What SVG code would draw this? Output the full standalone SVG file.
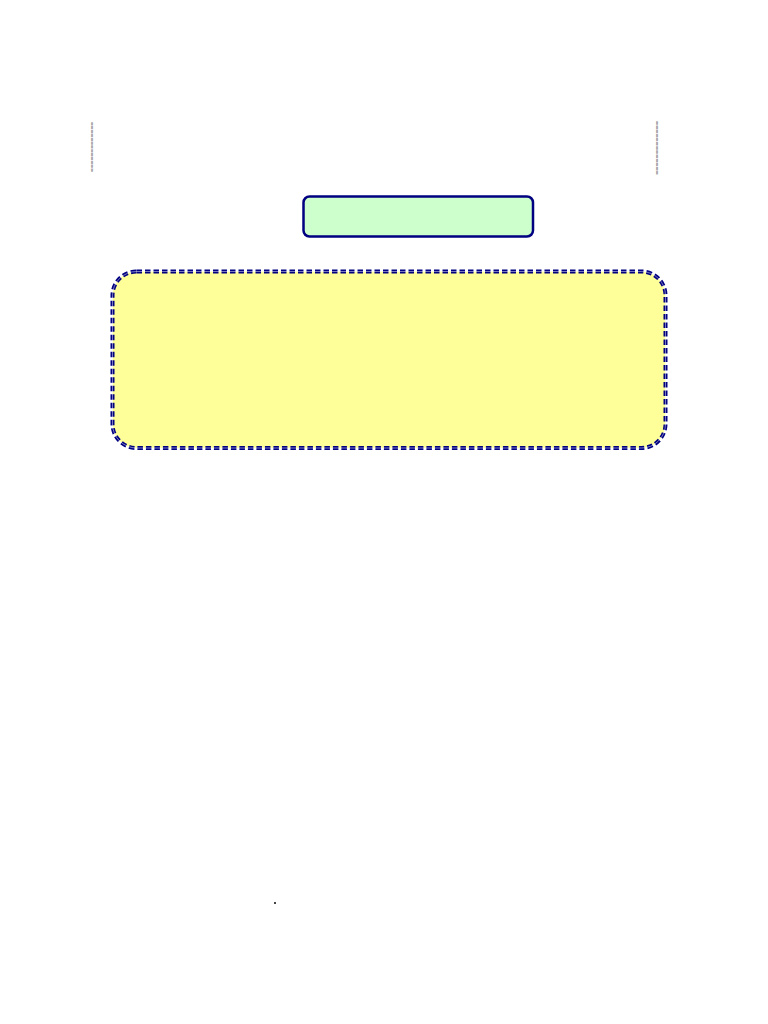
<svg xmlns="http://www.w3.org/2000/svg" width="768" height="1024" viewBox="0 0 768 1024">
<style>
.lbl{font-family:"Liberation Sans",Arial,sans-serif;font-size:4.5px;fill:#333333}
</style>
<rect width="768" height="1024" fill="#ffffff"/>
<g id="side-left"><text class="lbl" transform="translate(90,122) rotate(90)" textLength="50" lengthAdjust="spacingAndGlyphs">=============</text></g>
<g id="side-right"><text class="lbl" transform="translate(655,121) rotate(90)" textLength="54" lengthAdjust="spacingAndGlyphs">=============</text></g>
<g id="node-green"><rect x="303.5" y="196.5" width="229.5" height="40" rx="6" fill="#ccffcc" stroke="#000080" stroke-width="2.5"/></g>
<g id="node-yellow">
<rect x="112.5" y="271.5" width="553" height="176.5" rx="24" fill="#ffff99" stroke="#000080" stroke-width="4" stroke-dasharray="5.5 3"/>
<rect x="112.5" y="271.5" width="553" height="176.5" rx="24" fill="none" stroke="#ffffff" stroke-width="0.8" stroke-opacity="0.6"/>
</g>
<g id="connectors"></g>
<rect x="274" y="902" width="2" height="2" fill="#444444"/>
</svg>
